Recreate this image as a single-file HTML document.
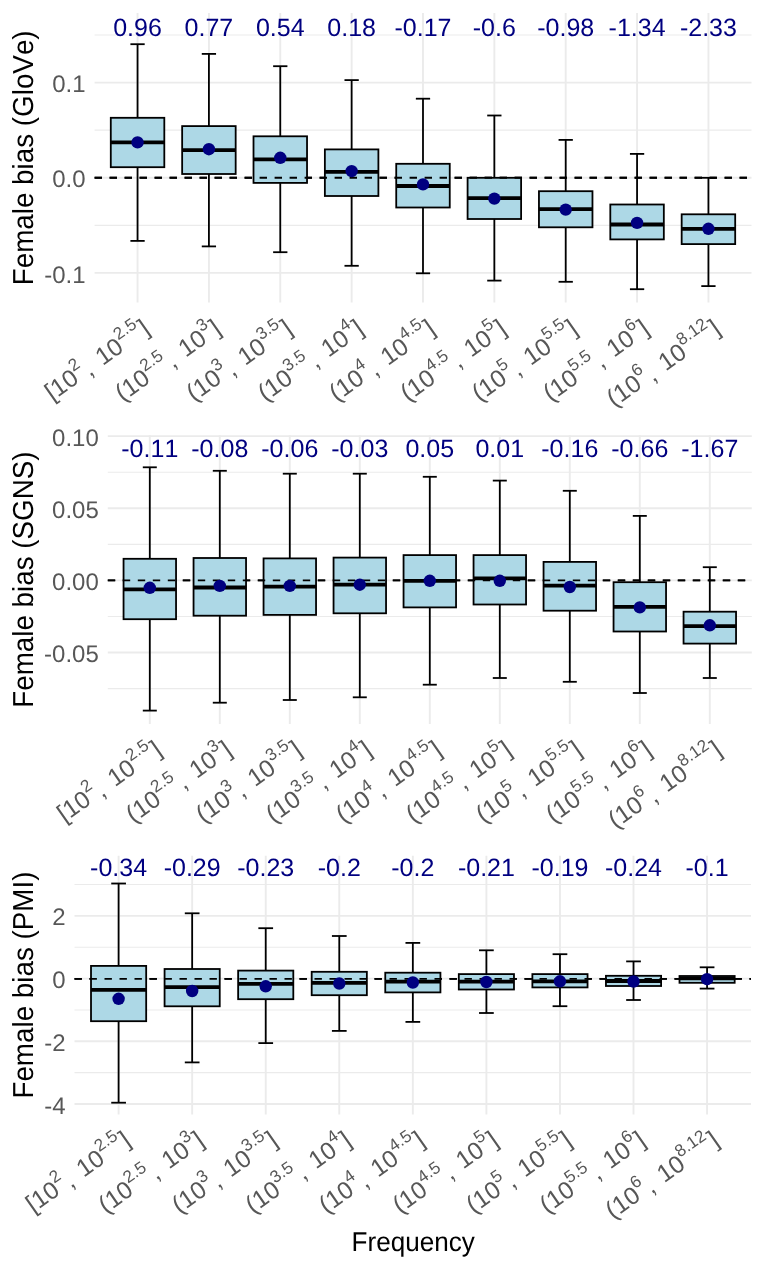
<!DOCTYPE html>
<html><head><meta charset="utf-8"><style>
html,body{margin:0;padding:0;background:#fff;overflow:hidden;width:765px;height:1270px;}
svg{display:block;will-change:transform;font-family:"Liberation Sans", sans-serif;font-kerning:none;text-rendering:geometricPrecision;}
</style></head><body>
<svg width="765" height="1270" viewBox="0 0 765 1270">
<rect width="765" height="1270" fill="#fff"/>
<line x1="94.6" x2="751.5" y1="35.01" y2="35.01" stroke="#EBEBEB" stroke-width="1.15"/>
<line x1="94.6" x2="751.5" y1="130.17" y2="130.17" stroke="#EBEBEB" stroke-width="1.15"/>
<line x1="94.6" x2="751.5" y1="225.33" y2="225.33" stroke="#EBEBEB" stroke-width="1.15"/>
<line x1="94.6" x2="751.5" y1="82.59" y2="82.59" stroke="#EBEBEB" stroke-width="1.9"/>
<line x1="94.6" x2="751.5" y1="177.75" y2="177.75" stroke="#EBEBEB" stroke-width="1.9"/>
<line x1="94.6" x2="751.5" y1="272.91" y2="272.91" stroke="#EBEBEB" stroke-width="1.9"/>
<line x1="137.55" x2="137.55" y1="13.1" y2="302.6" stroke="#EBEBEB" stroke-width="1.9"/>
<line x1="208.91" x2="208.91" y1="13.1" y2="302.6" stroke="#EBEBEB" stroke-width="1.9"/>
<line x1="280.27" x2="280.27" y1="13.1" y2="302.6" stroke="#EBEBEB" stroke-width="1.9"/>
<line x1="351.63" x2="351.63" y1="13.1" y2="302.6" stroke="#EBEBEB" stroke-width="1.9"/>
<line x1="422.99" x2="422.99" y1="13.1" y2="302.6" stroke="#EBEBEB" stroke-width="1.9"/>
<line x1="494.35" x2="494.35" y1="13.1" y2="302.6" stroke="#EBEBEB" stroke-width="1.9"/>
<line x1="565.71" x2="565.71" y1="13.1" y2="302.6" stroke="#EBEBEB" stroke-width="1.9"/>
<line x1="637.07" x2="637.07" y1="13.1" y2="302.6" stroke="#EBEBEB" stroke-width="1.9"/>
<line x1="708.43" x2="708.43" y1="13.1" y2="302.6" stroke="#EBEBEB" stroke-width="1.9"/>
<text x="85.6" y="82.59" dy="0.40em" text-anchor="end" fill="#575757" font-size="24">0.1</text>
<text x="85.6" y="177.75" dy="0.40em" text-anchor="end" fill="#575757" font-size="24">0.0</text>
<text x="85.6" y="272.91" dy="0.40em" text-anchor="end" fill="#575757" font-size="24">-0.1</text>
<line x1="94.6" x2="751.5" y1="177.75" y2="177.75" stroke="#000" stroke-width="1.9" stroke-dasharray="7.4 7.6"/>
<line x1="137.55" x2="137.55" y1="44.2" y2="117.8" stroke="#000" stroke-width="1.8"/>
<line x1="137.55" x2="137.55" y1="167.2" y2="240.9" stroke="#000" stroke-width="1.8"/>
<line x1="130.41" x2="144.69" y1="44.2" y2="44.2" stroke="#000" stroke-width="1.8"/>
<line x1="130.41" x2="144.69" y1="240.9" y2="240.9" stroke="#000" stroke-width="1.8"/>
<rect x="110.79" y="117.8" width="53.52" height="49.4" fill="#ADD8E6" stroke="#000" stroke-width="1.8"/>
<line x1="110.79" x2="164.31" y1="142.4" y2="142.4" stroke="#000" stroke-width="3.8"/>
<line x1="208.91" x2="208.91" y1="53.9" y2="126.1" stroke="#000" stroke-width="1.8"/>
<line x1="208.91" x2="208.91" y1="174" y2="246.4" stroke="#000" stroke-width="1.8"/>
<line x1="201.77" x2="216.05" y1="53.9" y2="53.9" stroke="#000" stroke-width="1.8"/>
<line x1="201.77" x2="216.05" y1="246.4" y2="246.4" stroke="#000" stroke-width="1.8"/>
<rect x="182.15" y="126.1" width="53.52" height="47.9" fill="#ADD8E6" stroke="#000" stroke-width="1.8"/>
<line x1="182.15" x2="235.67" y1="150.2" y2="150.2" stroke="#000" stroke-width="3.8"/>
<line x1="280.27" x2="280.27" y1="66.2" y2="136.3" stroke="#000" stroke-width="1.8"/>
<line x1="280.27" x2="280.27" y1="182.9" y2="252.2" stroke="#000" stroke-width="1.8"/>
<line x1="273.13" x2="287.41" y1="66.2" y2="66.2" stroke="#000" stroke-width="1.8"/>
<line x1="273.13" x2="287.41" y1="252.2" y2="252.2" stroke="#000" stroke-width="1.8"/>
<rect x="253.51" y="136.3" width="53.52" height="46.6" fill="#ADD8E6" stroke="#000" stroke-width="1.8"/>
<line x1="253.51" x2="307.03" y1="159.3" y2="159.3" stroke="#000" stroke-width="3.8"/>
<line x1="351.63" x2="351.63" y1="80.1" y2="149.4" stroke="#000" stroke-width="1.8"/>
<line x1="351.63" x2="351.63" y1="196" y2="265.8" stroke="#000" stroke-width="1.8"/>
<line x1="344.49" x2="358.77" y1="80.1" y2="80.1" stroke="#000" stroke-width="1.8"/>
<line x1="344.49" x2="358.77" y1="265.8" y2="265.8" stroke="#000" stroke-width="1.8"/>
<rect x="324.87" y="149.4" width="53.52" height="46.6" fill="#ADD8E6" stroke="#000" stroke-width="1.8"/>
<line x1="324.87" x2="378.39" y1="171.9" y2="171.9" stroke="#000" stroke-width="3.8"/>
<line x1="422.99" x2="422.99" y1="98.7" y2="163.8" stroke="#000" stroke-width="1.8"/>
<line x1="422.99" x2="422.99" y1="207.5" y2="273.3" stroke="#000" stroke-width="1.8"/>
<line x1="415.85" x2="430.13" y1="98.7" y2="98.7" stroke="#000" stroke-width="1.8"/>
<line x1="415.85" x2="430.13" y1="273.3" y2="273.3" stroke="#000" stroke-width="1.8"/>
<rect x="396.23" y="163.8" width="53.52" height="43.7" fill="#ADD8E6" stroke="#000" stroke-width="1.8"/>
<line x1="396.23" x2="449.75" y1="186" y2="186" stroke="#000" stroke-width="3.8"/>
<line x1="494.35" x2="494.35" y1="115.5" y2="177.8" stroke="#000" stroke-width="1.8"/>
<line x1="494.35" x2="494.35" y1="219" y2="280.6" stroke="#000" stroke-width="1.8"/>
<line x1="487.21" x2="501.49" y1="115.5" y2="115.5" stroke="#000" stroke-width="1.8"/>
<line x1="487.21" x2="501.49" y1="280.6" y2="280.6" stroke="#000" stroke-width="1.8"/>
<rect x="467.59" y="177.8" width="53.52" height="41.2" fill="#ADD8E6" stroke="#000" stroke-width="1.8"/>
<line x1="467.59" x2="521.11" y1="198.2" y2="198.2" stroke="#000" stroke-width="3.8"/>
<line x1="565.71" x2="565.71" y1="139.9" y2="191.2" stroke="#000" stroke-width="1.8"/>
<line x1="565.71" x2="565.71" y1="227.3" y2="281.8" stroke="#000" stroke-width="1.8"/>
<line x1="558.57" x2="572.85" y1="139.9" y2="139.9" stroke="#000" stroke-width="1.8"/>
<line x1="558.57" x2="572.85" y1="281.8" y2="281.8" stroke="#000" stroke-width="1.8"/>
<rect x="538.95" y="191.2" width="53.52" height="36.1" fill="#ADD8E6" stroke="#000" stroke-width="1.8"/>
<line x1="538.95" x2="592.47" y1="209.2" y2="209.2" stroke="#000" stroke-width="3.8"/>
<line x1="637.07" x2="637.07" y1="153.9" y2="204.5" stroke="#000" stroke-width="1.8"/>
<line x1="637.07" x2="637.07" y1="239.4" y2="289.2" stroke="#000" stroke-width="1.8"/>
<line x1="629.93" x2="644.21" y1="153.9" y2="153.9" stroke="#000" stroke-width="1.8"/>
<line x1="629.93" x2="644.21" y1="289.2" y2="289.2" stroke="#000" stroke-width="1.8"/>
<rect x="610.31" y="204.5" width="53.52" height="34.9" fill="#ADD8E6" stroke="#000" stroke-width="1.8"/>
<line x1="610.31" x2="663.83" y1="224.5" y2="224.5" stroke="#000" stroke-width="3.8"/>
<line x1="708.43" x2="708.43" y1="177.8" y2="214.3" stroke="#000" stroke-width="1.8"/>
<line x1="708.43" x2="708.43" y1="244.1" y2="286.1" stroke="#000" stroke-width="1.8"/>
<line x1="701.29" x2="715.57" y1="177.8" y2="177.8" stroke="#000" stroke-width="1.8"/>
<line x1="701.29" x2="715.57" y1="286.1" y2="286.1" stroke="#000" stroke-width="1.8"/>
<rect x="681.67" y="214.3" width="53.52" height="29.8" fill="#ADD8E6" stroke="#000" stroke-width="1.8"/>
<line x1="681.67" x2="735.19" y1="228.8" y2="228.8" stroke="#000" stroke-width="3.8"/>
<line opacity="1" x1="94.6" x2="751.5" y1="177.75" y2="177.75" stroke="#000" stroke-width="1.9" stroke-dasharray="7.4 7.6"/>
<circle cx="137.55" cy="142.4" r="6.2" fill="#000080"/>
<circle cx="208.91" cy="149.2" r="6.2" fill="#000080"/>
<circle cx="280.27" cy="157.8" r="6.2" fill="#000080"/>
<circle cx="351.63" cy="171.1" r="6.2" fill="#000080"/>
<circle cx="422.99" cy="184.4" r="6.2" fill="#000080"/>
<circle cx="494.35" cy="198.6" r="6.2" fill="#000080"/>
<circle cx="565.71" cy="209.6" r="6.2" fill="#000080"/>
<circle cx="637.07" cy="222.9" r="6.2" fill="#000080"/>
<circle cx="708.43" cy="228.8" r="6.2" fill="#000080"/>
<text x="137.55" y="35.6" text-anchor="middle" fill="#000080" font-size="25">0.96</text>
<text x="208.91" y="35.6" text-anchor="middle" fill="#000080" font-size="25">0.77</text>
<text x="280.27" y="35.6" text-anchor="middle" fill="#000080" font-size="25">0.54</text>
<text x="351.63" y="35.6" text-anchor="middle" fill="#000080" font-size="25">0.18</text>
<text x="422.99" y="35.6" text-anchor="middle" fill="#000080" font-size="25">-0.17</text>
<text x="494.35" y="35.6" text-anchor="middle" fill="#000080" font-size="25">-0.6</text>
<text x="565.71" y="35.6" text-anchor="middle" fill="#000080" font-size="25">-0.98</text>
<text x="637.07" y="35.6" text-anchor="middle" fill="#000080" font-size="25">-1.34</text>
<text x="708.43" y="35.6" text-anchor="middle" fill="#000080" font-size="25">-2.33</text>
<g transform="translate(151.05,332.1) rotate(-35)"><text x="0" y="0" text-anchor="end" fill="#575757" font-size="24.6">[10<tspan dy="-12" font-size="17.2">2</tspan><tspan dy="13.8" dx="1.0">,</tspan><tspan dy="-1.8" dx="10">10</tspan><tspan dy="-12" font-size="17.2">2.5</tspan><tspan dy="12" dx="1.0">]</tspan></text></g>
<g transform="translate(222.41,332.1) rotate(-35)"><text x="0" y="0" text-anchor="end" fill="#575757" font-size="24.6">(10<tspan dy="-12" font-size="17.2">2.5</tspan><tspan dy="13.8" dx="1.0">,</tspan><tspan dy="-1.8" dx="10">10</tspan><tspan dy="-12" font-size="17.2">3</tspan><tspan dy="12" dx="1.0">]</tspan></text></g>
<g transform="translate(293.77,332.1) rotate(-35)"><text x="0" y="0" text-anchor="end" fill="#575757" font-size="24.6">(10<tspan dy="-12" font-size="17.2">3</tspan><tspan dy="13.8" dx="1.0">,</tspan><tspan dy="-1.8" dx="10">10</tspan><tspan dy="-12" font-size="17.2">3.5</tspan><tspan dy="12" dx="1.0">]</tspan></text></g>
<g transform="translate(365.13,332.1) rotate(-35)"><text x="0" y="0" text-anchor="end" fill="#575757" font-size="24.6">(10<tspan dy="-12" font-size="17.2">3.5</tspan><tspan dy="13.8" dx="1.0">,</tspan><tspan dy="-1.8" dx="10">10</tspan><tspan dy="-12" font-size="17.2">4</tspan><tspan dy="12" dx="1.0">]</tspan></text></g>
<g transform="translate(436.49,332.1) rotate(-35)"><text x="0" y="0" text-anchor="end" fill="#575757" font-size="24.6">(10<tspan dy="-12" font-size="17.2">4</tspan><tspan dy="13.8" dx="1.0">,</tspan><tspan dy="-1.8" dx="10">10</tspan><tspan dy="-12" font-size="17.2">4.5</tspan><tspan dy="12" dx="1.0">]</tspan></text></g>
<g transform="translate(507.85,332.1) rotate(-35)"><text x="0" y="0" text-anchor="end" fill="#575757" font-size="24.6">(10<tspan dy="-12" font-size="17.2">4.5</tspan><tspan dy="13.8" dx="1.0">,</tspan><tspan dy="-1.8" dx="10">10</tspan><tspan dy="-12" font-size="17.2">5</tspan><tspan dy="12" dx="1.0">]</tspan></text></g>
<g transform="translate(579.21,332.1) rotate(-35)"><text x="0" y="0" text-anchor="end" fill="#575757" font-size="24.6">(10<tspan dy="-12" font-size="17.2">5</tspan><tspan dy="13.8" dx="1.0">,</tspan><tspan dy="-1.8" dx="10">10</tspan><tspan dy="-12" font-size="17.2">5.5</tspan><tspan dy="12" dx="1.0">]</tspan></text></g>
<g transform="translate(650.57,332.1) rotate(-35)"><text x="0" y="0" text-anchor="end" fill="#575757" font-size="24.6">(10<tspan dy="-12" font-size="17.2">5.5</tspan><tspan dy="13.8" dx="1.0">,</tspan><tspan dy="-1.8" dx="10">10</tspan><tspan dy="-12" font-size="17.2">6</tspan><tspan dy="12" dx="1.0">]</tspan></text></g>
<g transform="translate(721.93,332.1) rotate(-35)"><text x="0" y="0" text-anchor="end" fill="#575757" font-size="24.6">(10<tspan dy="-12" font-size="17.2">6</tspan><tspan dy="13.8" dx="1.0">,</tspan><tspan dy="-1.8" dx="10">10</tspan><tspan dy="-12" font-size="17.2">8.12</tspan><tspan dy="12" dx="1.0">]</tspan></text></g>
<text transform="translate(33.2,157.85) rotate(-90) scale(1,1.04)" x="0" y="0" text-anchor="middle" fill="#000" font-size="27.8">Female bias (GloVe)</text>
<line x1="107.8" x2="751.8" y1="472.23" y2="472.23" stroke="#EBEBEB" stroke-width="1.15"/>
<line x1="107.8" x2="751.8" y1="544.34" y2="544.34" stroke="#EBEBEB" stroke-width="1.15"/>
<line x1="107.8" x2="751.8" y1="616.46" y2="616.46" stroke="#EBEBEB" stroke-width="1.15"/>
<line x1="107.8" x2="751.8" y1="688.57" y2="688.57" stroke="#EBEBEB" stroke-width="1.15"/>
<line x1="107.8" x2="751.8" y1="436.17" y2="436.17" stroke="#EBEBEB" stroke-width="1.9"/>
<line x1="107.8" x2="751.8" y1="508.28" y2="508.28" stroke="#EBEBEB" stroke-width="1.9"/>
<line x1="107.8" x2="751.8" y1="580.4" y2="580.4" stroke="#EBEBEB" stroke-width="1.9"/>
<line x1="107.8" x2="751.8" y1="652.51" y2="652.51" stroke="#EBEBEB" stroke-width="1.9"/>
<line x1="149.8" x2="149.8" y1="435.3" y2="723.9" stroke="#EBEBEB" stroke-width="1.9"/>
<line x1="219.8" x2="219.8" y1="435.3" y2="723.9" stroke="#EBEBEB" stroke-width="1.9"/>
<line x1="289.8" x2="289.8" y1="435.3" y2="723.9" stroke="#EBEBEB" stroke-width="1.9"/>
<line x1="359.8" x2="359.8" y1="435.3" y2="723.9" stroke="#EBEBEB" stroke-width="1.9"/>
<line x1="429.8" x2="429.8" y1="435.3" y2="723.9" stroke="#EBEBEB" stroke-width="1.9"/>
<line x1="499.8" x2="499.8" y1="435.3" y2="723.9" stroke="#EBEBEB" stroke-width="1.9"/>
<line x1="569.8" x2="569.8" y1="435.3" y2="723.9" stroke="#EBEBEB" stroke-width="1.9"/>
<line x1="639.8" x2="639.8" y1="435.3" y2="723.9" stroke="#EBEBEB" stroke-width="1.9"/>
<line x1="709.8" x2="709.8" y1="435.3" y2="723.9" stroke="#EBEBEB" stroke-width="1.9"/>
<text x="98.8" y="436.17" dy="0.40em" text-anchor="end" fill="#575757" font-size="24">0.10</text>
<text x="98.8" y="508.28" dy="0.40em" text-anchor="end" fill="#575757" font-size="24">0.05</text>
<text x="98.8" y="580.4" dy="0.40em" text-anchor="end" fill="#575757" font-size="24">0.00</text>
<text x="98.8" y="652.51" dy="0.40em" text-anchor="end" fill="#575757" font-size="24">-0.05</text>
<line x1="107.8" x2="751.8" y1="580.4" y2="580.4" stroke="#000" stroke-width="1.9" stroke-dasharray="7.4 7.6"/>
<line x1="149.8" x2="149.8" y1="467.3" y2="558.8" stroke="#000" stroke-width="1.8"/>
<line x1="149.8" x2="149.8" y1="619.2" y2="710.6" stroke="#000" stroke-width="1.8"/>
<line x1="142.8" x2="156.8" y1="467.3" y2="467.3" stroke="#000" stroke-width="1.8"/>
<line x1="142.8" x2="156.8" y1="710.6" y2="710.6" stroke="#000" stroke-width="1.8"/>
<rect x="123.55" y="558.8" width="52.5" height="60.4" fill="#ADD8E6" stroke="#000" stroke-width="1.8"/>
<line x1="123.55" x2="176.05" y1="589.4" y2="589.4" stroke="#000" stroke-width="3.8"/>
<line x1="219.8" x2="219.8" y1="470.8" y2="558" stroke="#000" stroke-width="1.8"/>
<line x1="219.8" x2="219.8" y1="615.7" y2="702.7" stroke="#000" stroke-width="1.8"/>
<line x1="212.8" x2="226.8" y1="470.8" y2="470.8" stroke="#000" stroke-width="1.8"/>
<line x1="212.8" x2="226.8" y1="702.7" y2="702.7" stroke="#000" stroke-width="1.8"/>
<rect x="193.55" y="558" width="52.5" height="57.7" fill="#ADD8E6" stroke="#000" stroke-width="1.8"/>
<line x1="193.55" x2="246.05" y1="587.5" y2="587.5" stroke="#000" stroke-width="3.8"/>
<line x1="289.8" x2="289.8" y1="473.7" y2="558.4" stroke="#000" stroke-width="1.8"/>
<line x1="289.8" x2="289.8" y1="614.9" y2="700" stroke="#000" stroke-width="1.8"/>
<line x1="282.8" x2="296.8" y1="473.7" y2="473.7" stroke="#000" stroke-width="1.8"/>
<line x1="282.8" x2="296.8" y1="700" y2="700" stroke="#000" stroke-width="1.8"/>
<rect x="263.55" y="558.4" width="52.5" height="56.5" fill="#ADD8E6" stroke="#000" stroke-width="1.8"/>
<line x1="263.55" x2="316.05" y1="586.7" y2="586.7" stroke="#000" stroke-width="3.8"/>
<line x1="359.8" x2="359.8" y1="473.7" y2="557.6" stroke="#000" stroke-width="1.8"/>
<line x1="359.8" x2="359.8" y1="613.3" y2="697.3" stroke="#000" stroke-width="1.8"/>
<line x1="352.8" x2="366.8" y1="473.7" y2="473.7" stroke="#000" stroke-width="1.8"/>
<line x1="352.8" x2="366.8" y1="697.3" y2="697.3" stroke="#000" stroke-width="1.8"/>
<rect x="333.55" y="557.6" width="52.5" height="55.7" fill="#ADD8E6" stroke="#000" stroke-width="1.8"/>
<line x1="333.55" x2="386.05" y1="584.7" y2="584.7" stroke="#000" stroke-width="3.8"/>
<line x1="429.8" x2="429.8" y1="476.8" y2="555.1" stroke="#000" stroke-width="1.8"/>
<line x1="429.8" x2="429.8" y1="607.4" y2="684.7" stroke="#000" stroke-width="1.8"/>
<line x1="422.8" x2="436.8" y1="476.8" y2="476.8" stroke="#000" stroke-width="1.8"/>
<line x1="422.8" x2="436.8" y1="684.7" y2="684.7" stroke="#000" stroke-width="1.8"/>
<rect x="403.55" y="555.1" width="52.5" height="52.3" fill="#ADD8E6" stroke="#000" stroke-width="1.8"/>
<line x1="403.55" x2="456.05" y1="580.8" y2="580.8" stroke="#000" stroke-width="3.8"/>
<line x1="499.8" x2="499.8" y1="480.6" y2="555.1" stroke="#000" stroke-width="1.8"/>
<line x1="499.8" x2="499.8" y1="604.5" y2="678" stroke="#000" stroke-width="1.8"/>
<line x1="492.8" x2="506.8" y1="480.6" y2="480.6" stroke="#000" stroke-width="1.8"/>
<line x1="492.8" x2="506.8" y1="678" y2="678" stroke="#000" stroke-width="1.8"/>
<rect x="473.55" y="555.1" width="52.5" height="49.4" fill="#ADD8E6" stroke="#000" stroke-width="1.8"/>
<line x1="473.55" x2="526.05" y1="578.3" y2="578.3" stroke="#000" stroke-width="3.8"/>
<line x1="569.8" x2="569.8" y1="490.8" y2="561.9" stroke="#000" stroke-width="1.8"/>
<line x1="569.8" x2="569.8" y1="610.7" y2="681.8" stroke="#000" stroke-width="1.8"/>
<line x1="562.8" x2="576.8" y1="490.8" y2="490.8" stroke="#000" stroke-width="1.8"/>
<line x1="562.8" x2="576.8" y1="681.8" y2="681.8" stroke="#000" stroke-width="1.8"/>
<rect x="543.55" y="561.9" width="52.5" height="48.8" fill="#ADD8E6" stroke="#000" stroke-width="1.8"/>
<line x1="543.55" x2="596.05" y1="585.6" y2="585.6" stroke="#000" stroke-width="3.8"/>
<line x1="639.8" x2="639.8" y1="515.9" y2="582.2" stroke="#000" stroke-width="1.8"/>
<line x1="639.8" x2="639.8" y1="631.5" y2="693" stroke="#000" stroke-width="1.8"/>
<line x1="632.8" x2="646.8" y1="515.9" y2="515.9" stroke="#000" stroke-width="1.8"/>
<line x1="632.8" x2="646.8" y1="693" y2="693" stroke="#000" stroke-width="1.8"/>
<rect x="613.55" y="582.2" width="52.5" height="49.3" fill="#ADD8E6" stroke="#000" stroke-width="1.8"/>
<line x1="613.55" x2="666.05" y1="606.9" y2="606.9" stroke="#000" stroke-width="3.8"/>
<line x1="709.8" x2="709.8" y1="567.2" y2="611.7" stroke="#000" stroke-width="1.8"/>
<line x1="709.8" x2="709.8" y1="643.6" y2="678" stroke="#000" stroke-width="1.8"/>
<line x1="702.8" x2="716.8" y1="567.2" y2="567.2" stroke="#000" stroke-width="1.8"/>
<line x1="702.8" x2="716.8" y1="678" y2="678" stroke="#000" stroke-width="1.8"/>
<rect x="683.55" y="611.7" width="52.5" height="31.9" fill="#ADD8E6" stroke="#000" stroke-width="1.8"/>
<line x1="683.55" x2="736.05" y1="626.2" y2="626.2" stroke="#000" stroke-width="3.8"/>
<line opacity="1" x1="107.8" x2="751.8" y1="580.4" y2="580.4" stroke="#000" stroke-width="1.9" stroke-dasharray="7.4 7.6"/>
<circle cx="149.8" cy="587.8" r="6.2" fill="#000080"/>
<circle cx="219.8" cy="585.9" r="6.2" fill="#000080"/>
<circle cx="289.8" cy="585.9" r="6.2" fill="#000080"/>
<circle cx="359.8" cy="584.7" r="6.2" fill="#000080"/>
<circle cx="429.8" cy="580.8" r="6.2" fill="#000080"/>
<circle cx="499.8" cy="580.8" r="6.2" fill="#000080"/>
<circle cx="569.8" cy="587" r="6.2" fill="#000080"/>
<circle cx="639.8" cy="607.4" r="6.2" fill="#000080"/>
<circle cx="709.8" cy="625.3" r="6.2" fill="#000080"/>
<text x="149.8" y="456.9" text-anchor="middle" fill="#000080" font-size="25">-0.11</text>
<text x="219.8" y="456.9" text-anchor="middle" fill="#000080" font-size="25">-0.08</text>
<text x="289.8" y="456.9" text-anchor="middle" fill="#000080" font-size="25">-0.06</text>
<text x="359.8" y="456.9" text-anchor="middle" fill="#000080" font-size="25">-0.03</text>
<text x="429.8" y="456.9" text-anchor="middle" fill="#000080" font-size="25">0.05</text>
<text x="499.8" y="456.9" text-anchor="middle" fill="#000080" font-size="25">0.01</text>
<text x="569.8" y="456.9" text-anchor="middle" fill="#000080" font-size="25">-0.16</text>
<text x="639.8" y="456.9" text-anchor="middle" fill="#000080" font-size="25">-0.66</text>
<text x="709.8" y="456.9" text-anchor="middle" fill="#000080" font-size="25">-1.67</text>
<g transform="translate(163.3,753.4) rotate(-35)"><text x="0" y="0" text-anchor="end" fill="#575757" font-size="24.6">[10<tspan dy="-12" font-size="17.2">2</tspan><tspan dy="13.8" dx="1.0">,</tspan><tspan dy="-1.8" dx="10">10</tspan><tspan dy="-12" font-size="17.2">2.5</tspan><tspan dy="12" dx="1.0">]</tspan></text></g>
<g transform="translate(233.3,753.4) rotate(-35)"><text x="0" y="0" text-anchor="end" fill="#575757" font-size="24.6">(10<tspan dy="-12" font-size="17.2">2.5</tspan><tspan dy="13.8" dx="1.0">,</tspan><tspan dy="-1.8" dx="10">10</tspan><tspan dy="-12" font-size="17.2">3</tspan><tspan dy="12" dx="1.0">]</tspan></text></g>
<g transform="translate(303.3,753.4) rotate(-35)"><text x="0" y="0" text-anchor="end" fill="#575757" font-size="24.6">(10<tspan dy="-12" font-size="17.2">3</tspan><tspan dy="13.8" dx="1.0">,</tspan><tspan dy="-1.8" dx="10">10</tspan><tspan dy="-12" font-size="17.2">3.5</tspan><tspan dy="12" dx="1.0">]</tspan></text></g>
<g transform="translate(373.3,753.4) rotate(-35)"><text x="0" y="0" text-anchor="end" fill="#575757" font-size="24.6">(10<tspan dy="-12" font-size="17.2">3.5</tspan><tspan dy="13.8" dx="1.0">,</tspan><tspan dy="-1.8" dx="10">10</tspan><tspan dy="-12" font-size="17.2">4</tspan><tspan dy="12" dx="1.0">]</tspan></text></g>
<g transform="translate(443.3,753.4) rotate(-35)"><text x="0" y="0" text-anchor="end" fill="#575757" font-size="24.6">(10<tspan dy="-12" font-size="17.2">4</tspan><tspan dy="13.8" dx="1.0">,</tspan><tspan dy="-1.8" dx="10">10</tspan><tspan dy="-12" font-size="17.2">4.5</tspan><tspan dy="12" dx="1.0">]</tspan></text></g>
<g transform="translate(513.3,753.4) rotate(-35)"><text x="0" y="0" text-anchor="end" fill="#575757" font-size="24.6">(10<tspan dy="-12" font-size="17.2">4.5</tspan><tspan dy="13.8" dx="1.0">,</tspan><tspan dy="-1.8" dx="10">10</tspan><tspan dy="-12" font-size="17.2">5</tspan><tspan dy="12" dx="1.0">]</tspan></text></g>
<g transform="translate(583.3,753.4) rotate(-35)"><text x="0" y="0" text-anchor="end" fill="#575757" font-size="24.6">(10<tspan dy="-12" font-size="17.2">5</tspan><tspan dy="13.8" dx="1.0">,</tspan><tspan dy="-1.8" dx="10">10</tspan><tspan dy="-12" font-size="17.2">5.5</tspan><tspan dy="12" dx="1.0">]</tspan></text></g>
<g transform="translate(653.3,753.4) rotate(-35)"><text x="0" y="0" text-anchor="end" fill="#575757" font-size="24.6">(10<tspan dy="-12" font-size="17.2">5.5</tspan><tspan dy="13.8" dx="1.0">,</tspan><tspan dy="-1.8" dx="10">10</tspan><tspan dy="-12" font-size="17.2">6</tspan><tspan dy="12" dx="1.0">]</tspan></text></g>
<g transform="translate(723.3,753.4) rotate(-35)"><text x="0" y="0" text-anchor="end" fill="#575757" font-size="24.6">(10<tspan dy="-12" font-size="17.2">6</tspan><tspan dy="13.8" dx="1.0">,</tspan><tspan dy="-1.8" dx="10">10</tspan><tspan dy="-12" font-size="17.2">8.12</tspan><tspan dy="12" dx="1.0">]</tspan></text></g>
<text transform="translate(33.2,579.6) rotate(-90) scale(1,1.04)" x="0" y="0" text-anchor="middle" fill="#000" font-size="27.8">Female bias (SGNS)</text>
<line x1="74.5" x2="751" y1="884.52" y2="884.52" stroke="#EBEBEB" stroke-width="1.15"/>
<line x1="74.5" x2="751" y1="947.24" y2="947.24" stroke="#EBEBEB" stroke-width="1.15"/>
<line x1="74.5" x2="751" y1="1009.96" y2="1009.96" stroke="#EBEBEB" stroke-width="1.15"/>
<line x1="74.5" x2="751" y1="1072.68" y2="1072.68" stroke="#EBEBEB" stroke-width="1.15"/>
<line x1="74.5" x2="751" y1="915.88" y2="915.88" stroke="#EBEBEB" stroke-width="1.9"/>
<line x1="74.5" x2="751" y1="978.6" y2="978.6" stroke="#EBEBEB" stroke-width="1.9"/>
<line x1="74.5" x2="751" y1="1041.32" y2="1041.32" stroke="#EBEBEB" stroke-width="1.9"/>
<line x1="74.5" x2="751" y1="1104.04" y2="1104.04" stroke="#EBEBEB" stroke-width="1.9"/>
<line x1="118.6" x2="118.6" y1="855.7" y2="1114.4" stroke="#EBEBEB" stroke-width="1.9"/>
<line x1="192.16" x2="192.16" y1="855.7" y2="1114.4" stroke="#EBEBEB" stroke-width="1.9"/>
<line x1="265.72" x2="265.72" y1="855.7" y2="1114.4" stroke="#EBEBEB" stroke-width="1.9"/>
<line x1="339.28" x2="339.28" y1="855.7" y2="1114.4" stroke="#EBEBEB" stroke-width="1.9"/>
<line x1="412.84" x2="412.84" y1="855.7" y2="1114.4" stroke="#EBEBEB" stroke-width="1.9"/>
<line x1="486.4" x2="486.4" y1="855.7" y2="1114.4" stroke="#EBEBEB" stroke-width="1.9"/>
<line x1="559.96" x2="559.96" y1="855.7" y2="1114.4" stroke="#EBEBEB" stroke-width="1.9"/>
<line x1="633.52" x2="633.52" y1="855.7" y2="1114.4" stroke="#EBEBEB" stroke-width="1.9"/>
<line x1="707.08" x2="707.08" y1="855.7" y2="1114.4" stroke="#EBEBEB" stroke-width="1.9"/>
<text x="65.5" y="915.88" dy="0.40em" text-anchor="end" fill="#575757" font-size="24">2</text>
<text x="65.5" y="978.6" dy="0.40em" text-anchor="end" fill="#575757" font-size="24">0</text>
<text x="65.5" y="1041.32" dy="0.40em" text-anchor="end" fill="#575757" font-size="24">-2</text>
<text x="65.5" y="1104.04" dy="0.40em" text-anchor="end" fill="#575757" font-size="24">-4</text>
<line x1="74.5" x2="751" y1="978.9" y2="978.9" stroke="#000" stroke-width="1.9" stroke-dasharray="7.4 7.6"/>
<line x1="118.6" x2="118.6" y1="883.5" y2="965.9" stroke="#000" stroke-width="1.8"/>
<line x1="118.6" x2="118.6" y1="1021.2" y2="1102.7" stroke="#000" stroke-width="1.8"/>
<line x1="111.24" x2="125.96" y1="883.5" y2="883.5" stroke="#000" stroke-width="1.8"/>
<line x1="111.24" x2="125.96" y1="1102.7" y2="1102.7" stroke="#000" stroke-width="1.8"/>
<rect x="91.01" y="965.9" width="55.17" height="55.3" fill="#ADD8E6" stroke="#000" stroke-width="1.8"/>
<line x1="91.01" x2="146.19" y1="989.8" y2="989.8" stroke="#000" stroke-width="3.8"/>
<line x1="192.16" x2="192.16" y1="913.3" y2="969" stroke="#000" stroke-width="1.8"/>
<line x1="192.16" x2="192.16" y1="1006.3" y2="1062.4" stroke="#000" stroke-width="1.8"/>
<line x1="184.8" x2="199.52" y1="913.3" y2="913.3" stroke="#000" stroke-width="1.8"/>
<line x1="184.8" x2="199.52" y1="1062.4" y2="1062.4" stroke="#000" stroke-width="1.8"/>
<rect x="164.57" y="969" width="55.17" height="37.3" fill="#ADD8E6" stroke="#000" stroke-width="1.8"/>
<line x1="164.57" x2="219.75" y1="987.1" y2="987.1" stroke="#000" stroke-width="3.8"/>
<line x1="265.72" x2="265.72" y1="928.2" y2="970.6" stroke="#000" stroke-width="1.8"/>
<line x1="265.72" x2="265.72" y1="999.2" y2="1043.1" stroke="#000" stroke-width="1.8"/>
<line x1="258.36" x2="273.08" y1="928.2" y2="928.2" stroke="#000" stroke-width="1.8"/>
<line x1="258.36" x2="273.08" y1="1043.1" y2="1043.1" stroke="#000" stroke-width="1.8"/>
<rect x="238.14" y="970.6" width="55.17" height="28.6" fill="#ADD8E6" stroke="#000" stroke-width="1.8"/>
<line x1="238.14" x2="293.31" y1="983.9" y2="983.9" stroke="#000" stroke-width="3.8"/>
<line x1="339.28" x2="339.28" y1="936" y2="971.8" stroke="#000" stroke-width="1.8"/>
<line x1="339.28" x2="339.28" y1="995.2" y2="1030.9" stroke="#000" stroke-width="1.8"/>
<line x1="331.92" x2="346.64" y1="936" y2="936" stroke="#000" stroke-width="1.8"/>
<line x1="331.92" x2="346.64" y1="1030.9" y2="1030.9" stroke="#000" stroke-width="1.8"/>
<rect x="311.69" y="971.8" width="55.17" height="23.4" fill="#ADD8E6" stroke="#000" stroke-width="1.8"/>
<line x1="311.69" x2="366.86" y1="982.9" y2="982.9" stroke="#000" stroke-width="3.8"/>
<line x1="412.84" x2="412.84" y1="942.9" y2="972.7" stroke="#000" stroke-width="1.8"/>
<line x1="412.84" x2="412.84" y1="992.4" y2="1021.9" stroke="#000" stroke-width="1.8"/>
<line x1="405.48" x2="420.2" y1="942.9" y2="942.9" stroke="#000" stroke-width="1.8"/>
<line x1="405.48" x2="420.2" y1="1021.9" y2="1021.9" stroke="#000" stroke-width="1.8"/>
<rect x="385.26" y="972.7" width="55.17" height="19.7" fill="#ADD8E6" stroke="#000" stroke-width="1.8"/>
<line x1="385.26" x2="440.43" y1="981.6" y2="981.6" stroke="#000" stroke-width="3.8"/>
<line x1="486.4" x2="486.4" y1="950.3" y2="974.1" stroke="#000" stroke-width="1.8"/>
<line x1="486.4" x2="486.4" y1="989.5" y2="1013" stroke="#000" stroke-width="1.8"/>
<line x1="479.04" x2="493.76" y1="950.3" y2="950.3" stroke="#000" stroke-width="1.8"/>
<line x1="479.04" x2="493.76" y1="1013" y2="1013" stroke="#000" stroke-width="1.8"/>
<rect x="458.81" y="974.1" width="55.17" height="15.4" fill="#ADD8E6" stroke="#000" stroke-width="1.8"/>
<line x1="458.81" x2="513.99" y1="981.7" y2="981.7" stroke="#000" stroke-width="3.8"/>
<line x1="559.96" x2="559.96" y1="954.2" y2="974.1" stroke="#000" stroke-width="1.8"/>
<line x1="559.96" x2="559.96" y1="987.4" y2="1006.2" stroke="#000" stroke-width="1.8"/>
<line x1="552.6" x2="567.32" y1="954.2" y2="954.2" stroke="#000" stroke-width="1.8"/>
<line x1="552.6" x2="567.32" y1="1006.2" y2="1006.2" stroke="#000" stroke-width="1.8"/>
<rect x="532.38" y="974.1" width="55.17" height="13.3" fill="#ADD8E6" stroke="#000" stroke-width="1.8"/>
<line x1="532.38" x2="587.55" y1="981.4" y2="981.4" stroke="#000" stroke-width="3.8"/>
<line x1="633.52" x2="633.52" y1="961.4" y2="975.8" stroke="#000" stroke-width="1.8"/>
<line x1="633.52" x2="633.52" y1="986" y2="1000" stroke="#000" stroke-width="1.8"/>
<line x1="626.16" x2="640.88" y1="961.4" y2="961.4" stroke="#000" stroke-width="1.8"/>
<line x1="626.16" x2="640.88" y1="1000" y2="1000" stroke="#000" stroke-width="1.8"/>
<rect x="605.94" y="975.8" width="55.17" height="10.2" fill="#ADD8E6" stroke="#000" stroke-width="1.8"/>
<line x1="605.94" x2="661.11" y1="981" y2="981" stroke="#000" stroke-width="3.8"/>
<line x1="707.08" x2="707.08" y1="967.3" y2="976" stroke="#000" stroke-width="1.8"/>
<line x1="707.08" x2="707.08" y1="982.8" y2="988.6" stroke="#000" stroke-width="1.8"/>
<line x1="699.72" x2="714.44" y1="967.3" y2="967.3" stroke="#000" stroke-width="1.8"/>
<line x1="699.72" x2="714.44" y1="988.6" y2="988.6" stroke="#000" stroke-width="1.8"/>
<rect x="679.5" y="976" width="55.17" height="6.8" fill="#ADD8E6" stroke="#000" stroke-width="1.8"/>
<line x1="679.5" x2="734.67" y1="978.3" y2="978.3" stroke="#000" stroke-width="3.8"/>
<line opacity="1" x1="74.5" x2="751" y1="978.9" y2="978.9" stroke="#000" stroke-width="1.9" stroke-dasharray="7.4 7.6"/>
<circle cx="118.6" cy="998.8" r="6.2" fill="#000080"/>
<circle cx="192.16" cy="991" r="6.2" fill="#000080"/>
<circle cx="265.72" cy="986.3" r="6.2" fill="#000080"/>
<circle cx="339.28" cy="983.5" r="6.2" fill="#000080"/>
<circle cx="412.84" cy="982.5" r="6.2" fill="#000080"/>
<circle cx="486.4" cy="982" r="6.2" fill="#000080"/>
<circle cx="559.96" cy="981.3" r="6.2" fill="#000080"/>
<circle cx="633.52" cy="981.5" r="6.2" fill="#000080"/>
<circle cx="707.08" cy="979.2" r="6.2" fill="#000080"/>
<text x="118.6" y="875.8" text-anchor="middle" fill="#000080" font-size="25">-0.34</text>
<text x="192.16" y="875.8" text-anchor="middle" fill="#000080" font-size="25">-0.29</text>
<text x="265.72" y="875.8" text-anchor="middle" fill="#000080" font-size="25">-0.23</text>
<text x="339.28" y="875.8" text-anchor="middle" fill="#000080" font-size="25">-0.2</text>
<text x="412.84" y="875.8" text-anchor="middle" fill="#000080" font-size="25">-0.2</text>
<text x="486.4" y="875.8" text-anchor="middle" fill="#000080" font-size="25">-0.21</text>
<text x="559.96" y="875.8" text-anchor="middle" fill="#000080" font-size="25">-0.19</text>
<text x="633.52" y="875.8" text-anchor="middle" fill="#000080" font-size="25">-0.24</text>
<text x="707.08" y="875.8" text-anchor="middle" fill="#000080" font-size="25">-0.1</text>
<g transform="translate(132.1,1143.9) rotate(-35)"><text x="0" y="0" text-anchor="end" fill="#575757" font-size="24.6">[10<tspan dy="-12" font-size="17.2">2</tspan><tspan dy="13.8" dx="1.0">,</tspan><tspan dy="-1.8" dx="10">10</tspan><tspan dy="-12" font-size="17.2">2.5</tspan><tspan dy="12" dx="1.0">]</tspan></text></g>
<g transform="translate(205.66,1143.9) rotate(-35)"><text x="0" y="0" text-anchor="end" fill="#575757" font-size="24.6">(10<tspan dy="-12" font-size="17.2">2.5</tspan><tspan dy="13.8" dx="1.0">,</tspan><tspan dy="-1.8" dx="10">10</tspan><tspan dy="-12" font-size="17.2">3</tspan><tspan dy="12" dx="1.0">]</tspan></text></g>
<g transform="translate(279.22,1143.9) rotate(-35)"><text x="0" y="0" text-anchor="end" fill="#575757" font-size="24.6">(10<tspan dy="-12" font-size="17.2">3</tspan><tspan dy="13.8" dx="1.0">,</tspan><tspan dy="-1.8" dx="10">10</tspan><tspan dy="-12" font-size="17.2">3.5</tspan><tspan dy="12" dx="1.0">]</tspan></text></g>
<g transform="translate(352.78,1143.9) rotate(-35)"><text x="0" y="0" text-anchor="end" fill="#575757" font-size="24.6">(10<tspan dy="-12" font-size="17.2">3.5</tspan><tspan dy="13.8" dx="1.0">,</tspan><tspan dy="-1.8" dx="10">10</tspan><tspan dy="-12" font-size="17.2">4</tspan><tspan dy="12" dx="1.0">]</tspan></text></g>
<g transform="translate(426.34,1143.9) rotate(-35)"><text x="0" y="0" text-anchor="end" fill="#575757" font-size="24.6">(10<tspan dy="-12" font-size="17.2">4</tspan><tspan dy="13.8" dx="1.0">,</tspan><tspan dy="-1.8" dx="10">10</tspan><tspan dy="-12" font-size="17.2">4.5</tspan><tspan dy="12" dx="1.0">]</tspan></text></g>
<g transform="translate(499.9,1143.9) rotate(-35)"><text x="0" y="0" text-anchor="end" fill="#575757" font-size="24.6">(10<tspan dy="-12" font-size="17.2">4.5</tspan><tspan dy="13.8" dx="1.0">,</tspan><tspan dy="-1.8" dx="10">10</tspan><tspan dy="-12" font-size="17.2">5</tspan><tspan dy="12" dx="1.0">]</tspan></text></g>
<g transform="translate(573.46,1143.9) rotate(-35)"><text x="0" y="0" text-anchor="end" fill="#575757" font-size="24.6">(10<tspan dy="-12" font-size="17.2">5</tspan><tspan dy="13.8" dx="1.0">,</tspan><tspan dy="-1.8" dx="10">10</tspan><tspan dy="-12" font-size="17.2">5.5</tspan><tspan dy="12" dx="1.0">]</tspan></text></g>
<g transform="translate(647.02,1143.9) rotate(-35)"><text x="0" y="0" text-anchor="end" fill="#575757" font-size="24.6">(10<tspan dy="-12" font-size="17.2">5.5</tspan><tspan dy="13.8" dx="1.0">,</tspan><tspan dy="-1.8" dx="10">10</tspan><tspan dy="-12" font-size="17.2">6</tspan><tspan dy="12" dx="1.0">]</tspan></text></g>
<g transform="translate(720.58,1143.9) rotate(-35)"><text x="0" y="0" text-anchor="end" fill="#575757" font-size="24.6">(10<tspan dy="-12" font-size="17.2">6</tspan><tspan dy="13.8" dx="1.0">,</tspan><tspan dy="-1.8" dx="10">10</tspan><tspan dy="-12" font-size="17.2">8.12</tspan><tspan dy="12" dx="1.0">]</tspan></text></g>
<text transform="translate(33.2,985.05) rotate(-90) scale(1,1.04)" x="0" y="0" text-anchor="middle" fill="#000" font-size="27.8">Female bias (PMI)</text>
<text transform="translate(413.2,1251) scale(1,1.04)" x="0" y="0" text-anchor="middle" fill="#000" font-size="26.1">Frequency</text>
</svg></body></html>
